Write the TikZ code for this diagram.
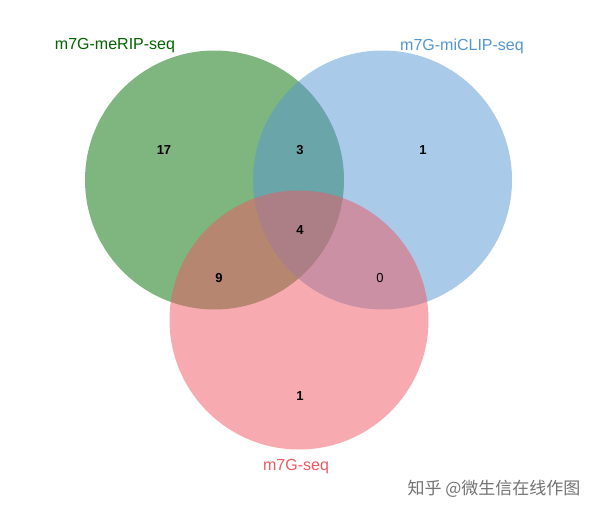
\documentclass[tikz,border=0pt]{standalone}
\usepackage{fontspec}
\setmainfont{Liberation Sans}
\newfontfamily\cjk{Noto Sans CJK SC}
\begin{document}
\begin{tikzpicture}[x=1pt,y=-1pt,
  circ/.style={draw=none,fill opacity=0.5},
  num/.style={font=\fontsize{13}{15}\selectfont\bfseries},
  lab/.style={font=\fontsize{16}{19}\selectfont}]
\useasboundingbox[fill=white] (0,0) rectangle (600,514);
\definecolor{gC}{RGB}{0,110,0}
\definecolor{bC}{RGB}{84,150,212}
\definecolor{rC}{RGB}{240,88,98}
\fill[circ,gC] (214.5,180) circle (129.5);
\fill[circ,bC] (382.5,180) circle (129.5);
\fill[circ,rC] (299,320) circle (129.5);
\node[lab,text=gC!90!black] (lg) at (115,46) {m7G-meRIP-seq};
\node[lab,text=bC] (lb) at (462,46) {m7G-miCLIP-seq};
\node[lab,text=rC] (lr) at (296,467) {m7G-seq};
\node[num] (n17) at (164,150) {17};
\node[num] (n3) at (300,150) {3};
\node[num] (n1a) at (423,150) {1};
\node[num] (n4) at (300,230) {4};
\node[num] (n9) at (219,278) {9};
\node[font=\fontsize{13}{15}\selectfont] (n0) at (380,278) {0};
\node[num] (n1b) at (300,396) {1};
\node[font=\cjk\fontsize{17}{20}\selectfont,text=black!55] (wm) at (494,489) {知乎 @微生信在线作图};
\end{tikzpicture}
\end{document}
